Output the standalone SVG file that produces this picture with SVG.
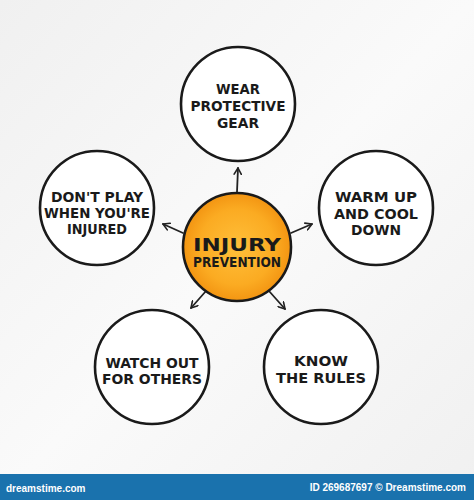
<svg xmlns="http://www.w3.org/2000/svg" width="474" height="500" viewBox="0 0 474 500">
<defs>
<radialGradient id="og" cx="50%" cy="50%" r="50%">
<stop offset="0" stop-color="#ffbf3a"/>
<stop offset="0.7" stop-color="#fbab22"/>
<stop offset="1" stop-color="#f39512"/>
</radialGradient>
<linearGradient id="bg" x1="0" y1="0" x2="1" y2="1">
<stop offset="0" stop-color="#f0f0f0"/>
<stop offset="0.5" stop-color="#fafafa"/>
<stop offset="1" stop-color="#f0f0f0"/>
</linearGradient>
<marker id="ah" viewBox="0 0 10 10" refX="8" refY="5" markerWidth="9" markerHeight="9" orient="auto" markerUnits="userSpaceOnUse">
<path d="M1,1 L8,5 L1,9" fill="none" stroke="#222" stroke-width="1.8" stroke-linecap="round" stroke-linejoin="round"/>
</marker>
</defs>
<style>
.c{fill:#fff;stroke:#1a1a1a;stroke-width:2.6}
.t{font-family:"DejaVu Sans Condensed","DejaVu Sans",sans-serif;font-weight:bold;font-size:13.5px;fill:#1a1a1a;text-anchor:middle}
.a{stroke:#222;stroke-width:1.8;fill:none;stroke-linecap:round;marker-end:url(#ah)}
.f{font-family:"Liberation Sans",Arial,sans-serif;fill:#fff;font-size:10px;font-weight:bold}
</style>
<rect width="474" height="500" fill="url(#bg)"/>
<g id="connectors">
<line class="a" x1="237" y1="192" x2="238" y2="168"/>
<line class="a" x1="183" y1="233" x2="163" y2="224"/>
<line class="a" x1="291" y1="233" x2="312" y2="224"/>
<line class="a" x1="206" y1="291" x2="191" y2="308"/>
<line class="a" x1="269" y1="291" x2="285" y2="309"/>
</g>
<g id="center">
<circle cx="237" cy="247" r="54" fill="url(#og)" stroke="#1a1a1a" stroke-width="2.6"/>
<text class="t" transform="translate(237,251) scale(1,1.3)" x="0" y="0" font-size="20" textLength="88" lengthAdjust="spacingAndGlyphs">INJURY</text>
<text class="t" x="237" y="267" font-size="12" textLength="88" lengthAdjust="spacingAndGlyphs">PREVENTION</text>
</g>
<g id="wear">
<circle class="c" cx="238" cy="104" r="57"/>
<text class="t" x="238" y="94" textLength="44" lengthAdjust="spacingAndGlyphs">WEAR</text>
<text class="t" x="238" y="111" textLength="95" lengthAdjust="spacingAndGlyphs">PROTECTIVE</text>
<text class="t" x="238" y="128" textLength="42" lengthAdjust="spacingAndGlyphs">GEAR</text>
</g>
<g id="dont">
<circle class="c" cx="97" cy="208" r="57"/>
<text class="t" x="97" y="202" textLength="92" lengthAdjust="spacingAndGlyphs">DON'T PLAY</text>
<text class="t" x="97" y="218" textLength="106" lengthAdjust="spacingAndGlyphs">WHEN YOU'RE</text>
<text class="t" x="97" y="234" textLength="60" lengthAdjust="spacingAndGlyphs">INJURED</text>
</g>
<g id="warm">
<circle class="c" cx="376" cy="208" r="57"/>
<text class="t" x="376" y="202" textLength="82" lengthAdjust="spacingAndGlyphs">WARM UP</text>
<text class="t" x="376" y="219" textLength="84" lengthAdjust="spacingAndGlyphs">AND COOL</text>
<text class="t" x="376" y="235" textLength="50" lengthAdjust="spacingAndGlyphs">DOWN</text>
</g>
<g id="watch">
<circle class="c" cx="152" cy="367" r="57"/>
<text class="t" x="152" y="368" textLength="93" lengthAdjust="spacingAndGlyphs">WATCH OUT</text>
<text class="t" x="152" y="384" textLength="100" lengthAdjust="spacingAndGlyphs">FOR OTHERS</text>
</g>
<g id="know">
<circle class="c" cx="321" cy="367" r="57"/>
<text class="t" x="321" y="366" textLength="54" lengthAdjust="spacingAndGlyphs">KNOW</text>
<text class="t" x="321" y="383" textLength="90" lengthAdjust="spacingAndGlyphs">THE RULES</text>
</g>
<g id="footer">
<rect x="0" y="474" width="474" height="26" fill="#1a72ad"/>
<text class="f" x="6" y="492" font-size="12" font-weight="normal">dreamstime.com</text>
<text class="f" x="466" y="491" text-anchor="end">ID 269687697 © Dreamstime.com</text>
</g>
</svg>
